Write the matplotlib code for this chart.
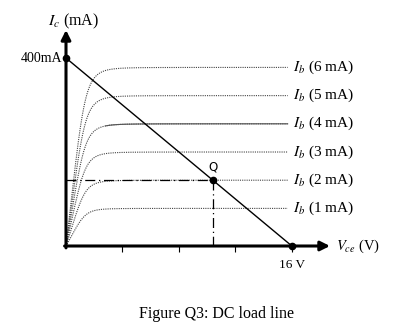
import numpy as np
import matplotlib.pyplot as plt

plt.rcParams['font.family'] = ['Liberation Serif', 'DejaVu Serif']
plt.rcParams['mathtext.fontset'] = 'stix'

# base currents and the saturated collector current of each curve (mA)
ib_labels = ['1 mA', '2 mA', '3 mA', '4 mA', '5 mA', '6 mA']
ic_sat = [80, 140, 200, 260, 320, 380]

# load line end points and Q point
vcc = 16.0        # V
ic_max = 400.0    # mA
ic_q = 140.0      # mA
vce_q = vcc * (1 - ic_q / ic_max)

fig = plt.figure(figsize=(4.15, 3.35), dpi=100)
ax = fig.add_axes([66 / 415, 89 / 335, 264 / 415, 216 / 335])
ax.set_xlim(0, 18.7)
ax.set_ylim(0, 459.6)
for s in ax.spines.values():
    s.set_visible(False)
ax.set_yticks([])
ax.set_xticks([4, 8, 12, 16])
ax.set_xticklabels([])
ax.tick_params(axis='x', direction='out', length=4, width=0.8, pad=2)

# transistor output characteristics
v = np.linspace(0, 15.7, 600)
vk, n = 1.45, 4
shape = (v / vk) / (1 + (v / vk) ** n) ** (1 / n)
for lab, isat in zip(ib_labels, ic_sat):
    ax.plot(v, isat * shape, color='#444444', lw=0.8, ls=(0, (1, 1)))
    if lab == '4 mA':
        m = v > 2.8
        ax.plot(v[m], isat * shape[m], color='#555555', lw=0.8)
    ax.text(16.1, isat, '$I_b$ (' + lab + ')', fontsize=11, va='center', ha='left')

# DC load line
ax.plot([0, vcc], [ic_max, 0], color='black', lw=1.0)
ax.plot([0, vcc, vce_q], [ic_max, 0, ic_q], 'o', color='black', ms=4.5, clip_on=False)

# Q point projections
ax.plot([0, vce_q], [ic_q, ic_q], color='black', lw=0.9, ls=(0, (8, 3, 1, 3)))
ax.plot([vce_q, vce_q], [ic_q, 0], color='black', lw=0.9, ls=(0, (8, 3, 1, 3)))
ax.text(vce_q, ic_q + 14, 'Q', fontsize=8.5, ha='center', va='bottom',
        family=['DejaVu Sans'])

# axes with arrows
ax.annotate('', xy=(18.7, 0), xytext=(-0.1, 0),
            arrowprops=dict(arrowstyle='-|>', lw=2.2, color='black', mutation_scale=14,
                            shrinkA=0, shrinkB=0), annotation_clip=False)
ax.annotate('', xy=(0, 459.6), xytext=(0, -4),
            arrowprops=dict(arrowstyle='-|>', lw=2.2, color='black', mutation_scale=14,
                            shrinkA=0, shrinkB=0), annotation_clip=False)

ax.text(0.5, 477, '$I_c$ (mA)', fontsize=11.5, ha='center', va='center')
ax.text(-0.3, ic_max, '400mA', fontsize=10, ha='right', va='center')
ax.text(vcc, -40, '16 V', fontsize=9.5, ha='center', va='center')
ax.text(19.1, 0, '$V_{ce}$ (V)', fontsize=10.5, ha='left', va='center')

fig.text(216 / 415, 1 - 314 / 335, 'Figure Q3: DC load line', fontsize=11.5,
         ha='center', va='center')

fig.savefig('out.png', dpi=100)
